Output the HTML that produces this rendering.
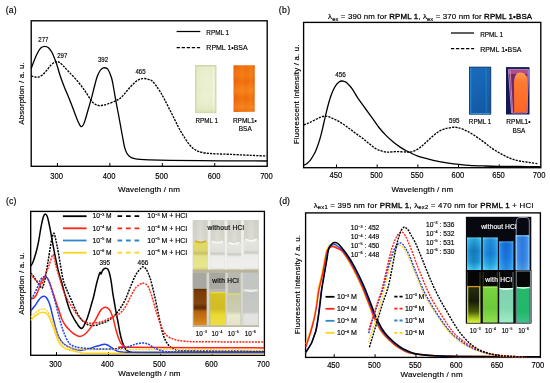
<!DOCTYPE html>
<html><head><meta charset="utf-8"><style>
html,body{margin:0;padding:0;background:#fff;width:550px;height:383px;overflow:hidden}
svg{display:block;filter:blur(0.3px)}
text{font-family:"Liberation Sans",sans-serif}
</style></head><body>
<svg width="550" height="383" viewBox="0 0 550 383" font-family="Liberation Sans, sans-serif" fill="#000">
<rect width="550" height="383" fill="#fff"/>
<text x="5.85" y="12.5" font-size="8.6" fill="#000" stroke="#000" stroke-width="0.16" textLength="10.70" lengthAdjust="spacing" >(a)</text>
<rect x="31.2" y="20.8" width="236.00" height="145.50" fill="none" stroke="#000" stroke-width="1.35"/>
<line x1="57.40" y1="166.30" x2="57.40" y2="163.00" stroke="#000" stroke-width="1.0"/>
<line x1="109.85" y1="166.30" x2="109.85" y2="163.00" stroke="#000" stroke-width="1.0"/>
<line x1="162.30" y1="166.30" x2="162.30" y2="163.00" stroke="#000" stroke-width="1.0"/>
<line x1="214.75" y1="166.30" x2="214.75" y2="163.00" stroke="#000" stroke-width="1.0"/>
<text x="50.35" y="178.8" font-size="8.7" fill="#000" stroke="#000" stroke-width="0.16" textLength="12.70" lengthAdjust="spacingAndGlyphs" >300</text>
<text x="102.80" y="178.8" font-size="8.7" fill="#000" stroke="#000" stroke-width="0.16" textLength="12.70" lengthAdjust="spacingAndGlyphs" >400</text>
<text x="155.25" y="178.8" font-size="8.7" fill="#000" stroke="#000" stroke-width="0.16" textLength="12.70" lengthAdjust="spacingAndGlyphs" >500</text>
<text x="207.70" y="178.8" font-size="8.7" fill="#000" stroke="#000" stroke-width="0.16" textLength="12.70" lengthAdjust="spacingAndGlyphs" >600</text>
<text x="260.15" y="178.8" font-size="8.7" fill="#000" stroke="#000" stroke-width="0.16" textLength="12.70" lengthAdjust="spacingAndGlyphs" >700</text>
<text x="118.05" y="192.2" font-size="8.0" fill="#000" stroke="#000" stroke-width="0.16" textLength="61.80" lengthAdjust="spacing" >Wavelength / nm</text>
<text x="23.7" y="124.75" font-size="7.9" stroke="#000" stroke-width="0.16" textLength="62.50" lengthAdjust="spacing" transform="rotate(-90 23.7 124.75)">Absorption / a. u.</text>
<path d="M31.20,68.50 C31.67,67.25 32.95,63.58 34.00,61.00 C35.05,58.42 36.33,55.20 37.50,53.00 C38.67,50.80 39.77,48.92 41.00,47.80 C42.23,46.68 43.65,46.30 44.90,46.30 C46.15,46.30 47.32,46.77 48.50,47.80 C49.68,48.83 50.73,50.05 52.00,52.50 C53.27,54.95 55.10,59.83 56.10,62.50 C57.10,65.17 57.35,66.38 58.00,68.50 C58.65,70.62 59.23,72.87 60.00,75.20 C60.77,77.53 61.68,80.03 62.60,82.50 C63.52,84.97 64.57,87.72 65.50,90.00 C66.43,92.28 67.20,93.78 68.20,96.20 C69.20,98.62 70.42,101.70 71.50,104.50 C72.58,107.30 73.62,110.17 74.70,113.00 C75.78,115.83 76.97,119.23 78.00,121.50 C79.03,123.77 79.98,126.10 80.90,126.60 C81.82,127.10 82.70,125.90 83.50,124.50 C84.30,123.10 84.87,120.87 85.70,118.20 C86.53,115.53 87.53,111.87 88.50,108.50 C89.47,105.13 90.53,101.58 91.50,98.00 C92.47,94.42 93.35,90.58 94.30,87.00 C95.25,83.42 96.17,79.33 97.20,76.50 C98.23,73.67 99.53,71.42 100.50,70.00 C101.47,68.58 102.20,68.35 103.00,68.00 C103.80,67.65 104.47,67.65 105.30,67.90 C106.13,68.15 106.95,67.82 108.00,69.50 C109.05,71.18 110.63,74.75 111.60,78.00 C112.57,81.25 113.08,85.17 113.80,89.00 C114.52,92.83 115.20,97.17 115.90,101.00 C116.60,104.83 117.28,108.18 118.00,112.00 C118.72,115.82 119.48,119.98 120.20,123.90 C120.92,127.82 121.58,131.67 122.30,135.50 C123.02,139.33 123.80,144.07 124.50,146.90 C125.20,149.73 125.78,151.02 126.50,152.50 C127.22,153.98 127.97,154.93 128.80,155.80 C129.63,156.67 130.53,157.23 131.50,157.70 C132.47,158.17 133.18,158.33 134.60,158.60 C136.02,158.87 137.62,159.10 140.00,159.30 C142.38,159.50 143.90,159.63 148.90,159.80 C153.90,159.97 158.15,160.13 170.00,160.30 C181.85,160.47 203.83,160.68 220.00,160.80 C236.17,160.92 259.17,160.97 267.00,161.00" fill="none" stroke="#000" stroke-width="1.3" stroke-linejoin="round"/>
<path d="M31.20,75.90 C31.87,76.08 33.90,76.85 35.20,77.00 C36.50,77.15 37.70,77.22 39.00,76.80 C40.30,76.38 41.67,75.63 43.00,74.50 C44.33,73.37 45.67,71.58 47.00,70.00 C48.33,68.42 49.75,66.28 51.00,65.00 C52.25,63.72 53.53,62.85 54.50,62.30 C55.47,61.75 56.05,61.72 56.80,61.70 C57.55,61.68 57.97,61.57 59.00,62.20 C60.03,62.83 61.42,63.95 63.00,65.50 C64.58,67.05 66.27,69.12 68.50,71.50 C70.73,73.88 73.73,76.68 76.40,79.80 C79.07,82.92 82.18,86.97 84.50,90.20 C86.82,93.43 88.93,97.18 90.30,99.20 C91.67,101.22 91.75,101.40 92.70,102.30 C93.65,103.20 94.90,104.05 96.00,104.60 C97.10,105.15 98.13,105.50 99.30,105.60 C100.47,105.70 101.63,105.45 103.00,105.20 C104.37,104.95 105.40,104.83 107.50,104.10 C109.60,103.37 113.42,101.82 115.60,100.80 C117.78,99.78 118.95,99.37 120.60,98.00 C122.25,96.63 123.87,94.45 125.50,92.60 C127.13,90.75 128.77,88.67 130.40,86.90 C132.03,85.13 133.87,83.22 135.30,82.00 C136.73,80.78 137.80,80.17 139.00,79.60 C140.20,79.03 141.22,78.73 142.50,78.60 C143.78,78.47 145.45,78.57 146.70,78.80 C147.95,79.03 149.12,79.67 150.00,80.00 C150.88,80.33 151.00,79.88 152.00,80.80 C153.00,81.72 154.58,83.60 156.00,85.50 C157.42,87.40 159.05,89.82 160.50,92.20 C161.95,94.58 163.18,96.93 164.70,99.80 C166.22,102.67 167.97,106.17 169.60,109.40 C171.23,112.63 172.87,115.93 174.50,119.20 C176.13,122.47 177.60,125.73 179.40,129.00 C181.20,132.27 183.53,136.10 185.30,138.80 C187.07,141.50 188.55,143.50 190.00,145.20 C191.45,146.90 192.50,147.93 194.00,149.00 C195.50,150.07 197.17,150.93 199.00,151.60 C200.83,152.27 202.65,152.65 205.00,153.00 C207.35,153.35 208.70,153.47 213.10,153.70 C217.50,153.93 225.25,154.13 231.40,154.40 C237.55,154.67 244.15,155.03 250.00,155.30 C255.85,155.57 263.75,155.88 266.50,156.00" fill="none" stroke="#000" stroke-width="1.35" stroke-dasharray="2.2 1.1" stroke-linejoin="round"/>
<text x="38.25" y="41.6" font-size="7.8" fill="#000" stroke="#000" stroke-width="0.16" textLength="10.20" lengthAdjust="spacingAndGlyphs" >277</text>
<text x="57.15" y="58.0" font-size="7.8" fill="#000" stroke="#000" stroke-width="0.16" textLength="10.20" lengthAdjust="spacingAndGlyphs" >297</text>
<text x="97.90" y="61.9" font-size="7.8" fill="#000" stroke="#000" stroke-width="0.16" textLength="10.20" lengthAdjust="spacingAndGlyphs" >392</text>
<text x="135.40" y="74.1" font-size="7.8" fill="#000" stroke="#000" stroke-width="0.16" textLength="10.20" lengthAdjust="spacingAndGlyphs" >465</text>
<line x1="176.60" y1="31.50" x2="200.30" y2="31.50" stroke="#000" stroke-width="1.25"/>
<text x="206.35" y="34.8" font-size="7.3" fill="#000" stroke="#000" stroke-width="0.16" textLength="22.80" lengthAdjust="spacingAndGlyphs" >RPML 1</text>
<line x1="176.60" y1="47.50" x2="200.30" y2="47.50" stroke="#000" stroke-width="1.25" stroke-dasharray="3.3 1.75"/>
<text x="206.35" y="49.6" font-size="7.3" fill="#000" stroke="#000" stroke-width="0.16" textLength="41.30" lengthAdjust="spacingAndGlyphs" >RPML 1•BSA</text>
<defs>
<linearGradient id="va1" x1="0" y1="0" x2="1" y2="0">
 <stop offset="0" stop-color="#d0d6aa"/><stop offset="0.1" stop-color="#e6ecc6"/><stop offset="0.5" stop-color="#ebf0d0"/><stop offset="0.82" stop-color="#e8eecc"/><stop offset="0.88" stop-color="#f6f8ea"/><stop offset="0.94" stop-color="#e4e9c4"/><stop offset="1" stop-color="#cfd4aa"/>
</linearGradient>
<linearGradient id="va1v" x1="0" y1="0" x2="0" y2="1">
 <stop offset="0" stop-color="#c8d09c" stop-opacity="0.9"/><stop offset="0.04" stop-color="#e0e6c0" stop-opacity="0.3"/><stop offset="0.5" stop-color="#fff" stop-opacity="0"/><stop offset="0.9" stop-color="#dde5b8" stop-opacity="0.4"/><stop offset="1" stop-color="#d0d8a8" stop-opacity="0.7"/>
</linearGradient>
<linearGradient id="va2" x1="0" y1="0" x2="1" y2="0">
 <stop offset="0" stop-color="#e85e08"/><stop offset="0.15" stop-color="#ee680a"/><stop offset="0.4" stop-color="#f07410"/><stop offset="0.6" stop-color="#ee6a0a"/><stop offset="0.85" stop-color="#f07812"/><stop offset="1" stop-color="#e45c08"/>
</linearGradient>
<linearGradient id="va2v" x1="0" y1="0" x2="0" y2="1">
 <stop offset="0" stop-color="#ffb040" stop-opacity="0"/><stop offset="0.2" stop-color="#ffa030" stop-opacity="0.25"/><stop offset="0.35" stop-color="#ffb040" stop-opacity="0"/><stop offset="0.55" stop-color="#ffa030" stop-opacity="0.4"/><stop offset="0.7" stop-color="#ffa030" stop-opacity="0"/><stop offset="0.9" stop-color="#ffb040" stop-opacity="0.3"/><stop offset="1" stop-color="#ffb040" stop-opacity="0"/>
</linearGradient>
</defs>
<rect x="195.5" y="65.6" width="20.5" height="47" fill="url(#va1)" stroke="#cdd2ac" stroke-width="0.9"/>
<rect x="195.5" y="65.6" width="20.5" height="47" fill="url(#va1v)"/>
<path d="M233.5,65.2 L254.8,65.2 L254.6,111.8 L233.6,112 Z" fill="url(#va2)"/>
<path d="M233.5,65.2 L254.8,65.2 L254.6,111.8 L233.6,112 Z" fill="url(#va2v)"/>
<text x="195.45" y="123.2" font-size="7.1" fill="#000" stroke="#000" stroke-width="0.16" textLength="22.50" lengthAdjust="spacingAndGlyphs" >RPML 1</text>
<text x="232.95" y="123.2" font-size="7.1" fill="#000" stroke="#000" stroke-width="0.16" textLength="23.90" lengthAdjust="spacingAndGlyphs" >RPML1•</text>
<text x="238.75" y="131.3" font-size="7.1" fill="#000" stroke="#000" stroke-width="0.16" textLength="13.00" lengthAdjust="spacingAndGlyphs" >BSA</text>
<text x="278.85" y="12.6" font-size="8.6" fill="#000" stroke="#000" stroke-width="0.16" textLength="11.20" lengthAdjust="spacing" >(b)</text>
<text x="328.05" y="18.9" font-size="7.9" fill="#000" stroke="#000" stroke-width="0.16" textLength="204.00" lengthAdjust="spacing" >λ<tspan font-size="5.8" dy="1.6">ex</tspan><tspan dy="-1.6"> </tspan>= 390 nm for <tspan stroke-width="0.32">RPML 1</tspan>, λ<tspan font-size="5.8" dy="1.6">ex</tspan><tspan dy="-1.6"> </tspan>= 370 nm for <tspan stroke-width="0.32">RPML 1•BSA</tspan></text>
<rect x="303.6" y="22.4" width="237.20" height="145.30" fill="none" stroke="#000" stroke-width="1.35"/>
<line x1="336.50" y1="167.70" x2="336.50" y2="164.40" stroke="#000" stroke-width="1.0"/>
<line x1="377.18" y1="167.70" x2="377.18" y2="164.40" stroke="#000" stroke-width="1.0"/>
<line x1="417.86" y1="167.70" x2="417.86" y2="164.40" stroke="#000" stroke-width="1.0"/>
<line x1="458.54" y1="167.70" x2="458.54" y2="164.40" stroke="#000" stroke-width="1.0"/>
<line x1="499.22" y1="167.70" x2="499.22" y2="164.40" stroke="#000" stroke-width="1.0"/>
<text x="329.45" y="178.1" font-size="8.7" fill="#000" stroke="#000" stroke-width="0.16" textLength="12.70" lengthAdjust="spacingAndGlyphs" >450</text>
<text x="370.13" y="178.1" font-size="8.7" fill="#000" stroke="#000" stroke-width="0.16" textLength="12.70" lengthAdjust="spacingAndGlyphs" >500</text>
<text x="410.81" y="178.1" font-size="8.7" fill="#000" stroke="#000" stroke-width="0.16" textLength="12.70" lengthAdjust="spacingAndGlyphs" >550</text>
<text x="451.49" y="178.1" font-size="8.7" fill="#000" stroke="#000" stroke-width="0.16" textLength="12.70" lengthAdjust="spacingAndGlyphs" >600</text>
<text x="492.17" y="178.1" font-size="8.7" fill="#000" stroke="#000" stroke-width="0.16" textLength="12.70" lengthAdjust="spacingAndGlyphs" >650</text>
<text x="532.85" y="178.1" font-size="8.7" fill="#000" stroke="#000" stroke-width="0.16" textLength="12.70" lengthAdjust="spacingAndGlyphs" >700</text>
<text x="391.45" y="192.1" font-size="8.0" fill="#000" stroke="#000" stroke-width="0.16" textLength="61.60" lengthAdjust="spacing" >Wavelength / nm</text>
<text x="298.9" y="144.25" font-size="7.9" stroke="#000" stroke-width="0.16" textLength="99.80" lengthAdjust="spacing" transform="rotate(-90 298.9 144.25)">Fluorescent Intensity / a. u.</text>
<path d="M303.80,165.30 C304.33,165.00 305.90,164.37 307.00,163.50 C308.10,162.63 309.40,161.35 310.40,160.10 C311.40,158.85 312.12,157.53 313.00,156.00 C313.88,154.47 314.82,152.90 315.70,150.90 C316.58,148.90 317.43,146.60 318.30,144.00 C319.17,141.40 320.03,138.55 320.90,135.30 C321.77,132.05 322.63,128.20 323.50,124.50 C324.37,120.80 325.23,116.68 326.10,113.10 C326.97,109.52 327.83,106.05 328.70,103.00 C329.57,99.95 330.42,97.22 331.30,94.80 C332.18,92.38 333.12,90.23 334.00,88.50 C334.88,86.77 335.77,85.48 336.60,84.40 C337.43,83.32 338.13,82.57 339.00,82.00 C339.87,81.43 340.88,81.08 341.80,81.00 C342.72,80.92 343.63,81.17 344.50,81.50 C345.37,81.83 345.72,81.78 347.00,83.00 C348.28,84.22 350.47,86.42 352.20,88.80 C353.93,91.18 355.33,94.18 357.40,97.30 C359.47,100.42 362.20,104.15 364.60,107.50 C367.00,110.85 369.40,114.07 371.80,117.40 C374.20,120.73 376.60,124.47 379.00,127.50 C381.40,130.53 383.82,133.18 386.20,135.60 C388.58,138.02 390.92,140.03 393.30,142.00 C395.68,143.97 398.25,145.90 400.50,147.40 C402.75,148.90 404.02,149.60 406.80,151.00 C409.58,152.40 413.72,154.48 417.20,155.80 C420.68,157.12 424.22,157.97 427.70,158.90 C431.18,159.83 434.62,160.70 438.10,161.40 C441.58,162.10 445.12,162.60 448.60,163.10 C452.08,163.60 455.53,164.02 459.00,164.40 C462.47,164.78 465.07,165.13 469.40,165.40 C473.73,165.67 480.13,165.85 485.00,166.00 C489.87,166.15 492.77,166.22 498.60,166.30 C504.43,166.38 513.10,166.45 520.00,166.50 C526.90,166.55 536.67,166.58 540.00,166.60" fill="none" stroke="#000" stroke-width="1.3" stroke-linejoin="round"/>
<path d="M303.80,124.80 C304.33,124.60 305.90,124.03 307.00,123.60 C308.10,123.17 308.95,122.88 310.40,122.20 C311.85,121.52 313.95,120.37 315.70,119.50 C317.45,118.63 319.38,117.55 320.90,117.00 C322.42,116.45 323.62,116.27 324.80,116.20 C325.98,116.13 326.92,116.33 328.00,116.60 C329.08,116.87 330.13,117.32 331.30,117.80 C332.47,118.28 333.68,118.85 335.00,119.50 C336.32,120.15 337.87,120.95 339.20,121.70 C340.53,122.45 341.70,123.13 343.00,124.00 C344.30,124.87 345.67,125.93 347.00,126.90 C348.33,127.87 349.70,128.83 351.00,129.80 C352.30,130.77 353.52,131.75 354.80,132.70 C356.08,133.65 357.38,134.55 358.70,135.50 C360.02,136.45 361.40,137.40 362.70,138.40 C364.00,139.40 365.07,140.33 366.50,141.50 C367.93,142.67 369.47,144.07 371.30,145.40 C373.13,146.73 375.07,148.40 377.50,149.50 C379.93,150.60 382.77,151.65 385.90,152.00 C389.03,152.35 392.82,151.60 396.30,151.60 C399.78,151.60 404.35,151.97 406.80,152.00 C409.25,152.03 409.62,152.03 411.00,151.80 C412.38,151.57 413.68,151.23 415.10,150.60 C416.52,149.97 418.10,148.98 419.50,148.00 C420.90,147.02 422.15,145.90 423.50,144.70 C424.85,143.50 426.22,142.08 427.60,140.80 C428.98,139.52 430.40,138.22 431.80,137.00 C433.20,135.78 434.60,134.55 436.00,133.50 C437.40,132.45 438.78,131.45 440.20,130.70 C441.62,129.95 443.10,129.45 444.50,129.00 C445.90,128.55 446.88,128.30 448.60,128.00 C450.32,127.70 453.15,127.23 454.80,127.20 C456.45,127.17 457.45,127.57 458.50,127.80 C459.55,128.03 459.57,128.00 461.10,128.60 C462.63,129.20 465.30,130.13 467.70,131.40 C470.10,132.67 472.92,134.50 475.50,136.20 C478.08,137.90 480.63,139.72 483.20,141.60 C485.77,143.48 488.33,145.68 490.90,147.50 C493.47,149.32 496.02,150.98 498.60,152.50 C501.18,154.02 503.82,155.40 506.40,156.60 C508.98,157.80 511.53,158.90 514.10,159.70 C516.67,160.50 519.22,160.93 521.80,161.40 C524.38,161.87 527.02,162.12 529.60,162.50 C532.18,162.88 536.02,163.50 537.30,163.70" fill="none" stroke="#000" stroke-width="1.35" stroke-dasharray="2.2 1.1" stroke-linejoin="round"/>
<text x="335.15" y="77.4" font-size="7.8" fill="#000" stroke="#000" stroke-width="0.16" textLength="10.70" lengthAdjust="spacingAndGlyphs" >456</text>
<text x="449.05" y="122.6" font-size="7.8" fill="#000" stroke="#000" stroke-width="0.16" textLength="10.40" lengthAdjust="spacingAndGlyphs" >595</text>
<line x1="450.90" y1="33.00" x2="474.10" y2="33.00" stroke="#000" stroke-width="1.25"/>
<text x="480.15" y="36.5" font-size="7.3" fill="#000" stroke="#000" stroke-width="0.16" textLength="22.90" lengthAdjust="spacingAndGlyphs" >RPML 1</text>
<line x1="450.90" y1="48.70" x2="474.10" y2="48.70" stroke="#000" stroke-width="1.25" stroke-dasharray="3.3 1.75"/>
<text x="480.15" y="52.2" font-size="7.3" fill="#000" stroke="#000" stroke-width="0.16" textLength="41.30" lengthAdjust="spacingAndGlyphs" >RPML 1•BSA</text>
<defs>
<linearGradient id="vb1" x1="0" y1="0" x2="1" y2="0">
 <stop offset="0" stop-color="#0c2c58"/><stop offset="0.08" stop-color="#1a64a8"/><stop offset="0.3" stop-color="#1e6eb2"/><stop offset="0.55" stop-color="#2276b8"/><stop offset="0.78" stop-color="#2a82c2"/><stop offset="0.92" stop-color="#1a66a8"/><stop offset="1" stop-color="#0a2448"/>
</linearGradient>
<linearGradient id="vb1v" x1="0" y1="0" x2="0" y2="1">
 <stop offset="0" stop-color="#0a2040" stop-opacity="0.7"/><stop offset="0.05" stop-color="#0a2040" stop-opacity="0"/><stop offset="0.95" stop-color="#0a2040" stop-opacity="0"/><stop offset="1" stop-color="#0a2040" stop-opacity="0.7"/>
</linearGradient>
<linearGradient id="vb2" x1="0" y1="0" x2="1" y2="0">
 <stop offset="0" stop-color="#141650"/><stop offset="0.08" stop-color="#5a58c8"/><stop offset="0.16" stop-color="#b05898"/><stop offset="0.3" stop-color="#d85a60"/><stop offset="0.45" stop-color="#f87038"/><stop offset="0.7" stop-color="#ff7a30"/><stop offset="0.84" stop-color="#e07060"/><stop offset="0.92" stop-color="#7068d0"/><stop offset="1" stop-color="#141650"/>
</linearGradient>
<linearGradient id="vb2v" x1="0" y1="0" x2="0" y2="1">
 <stop offset="0" stop-color="#141650" stop-opacity="1"/><stop offset="0.04" stop-color="#e8a0d0" stop-opacity="0.8"/><stop offset="0.12" stop-color="#c080c0" stop-opacity="0.3"/><stop offset="0.3" stop-color="#fff" stop-opacity="0"/><stop offset="0.93" stop-color="#fff" stop-opacity="0"/><stop offset="0.97" stop-color="#a080c0" stop-opacity="0.5"/><stop offset="1" stop-color="#141650" stop-opacity="1"/>
</linearGradient>
</defs>
<defs><linearGradient id="vbb" x1="0" y1="0" x2="0.3" y2="1"><stop offset="0" stop-color="#1a6cbc"/><stop offset="0.5" stop-color="#1664b2"/><stop offset="1" stop-color="#135aa6"/></linearGradient><linearGradient id="vbo" x1="0" y1="0" x2="0" y2="1"><stop offset="0" stop-color="#ff9a50"/><stop offset="0.25" stop-color="#ff7a30"/><stop offset="1" stop-color="#ff6424"/></linearGradient></defs>
<rect x="469.4" y="67.1" width="21.4" height="47.1" fill="url(#vbb)" stroke="#0a2848" stroke-width="0.8"/>
<path d="M470.8,68 L470.8,113" stroke="#3494d4" stroke-width="0.8"/>
<path d="M486,68 L486.5,113" stroke="#2a86cc" stroke-width="1.6" opacity="0.45"/>
<path d="M470,113.6 L490.4,113.6" stroke="#48a8e8" stroke-width="0.8"/>
<rect x="506.0" y="67.1" width="23.5" height="47.4" fill="#131852"/>
<path d="M508.3,69.4 L528.4,69.4 L527.0,113.0 L511.6,113.0 Z" fill="#6c2a6c" stroke="#d8a0e0" stroke-width="0.8"/>
<path d="M508.8,70 L528,70 L527.8,74 L509,74 Z" fill="#c05890" opacity="0.8"/>
<path d="M514.2,112.6 L514.0,82 Q514.5,73 519.5,72.4 Q525.5,72.2 527.4,78 L526.7,112.6 Z" fill="url(#vbo)"/>
<path d="M510.2,70.5 L512.6,112.5" stroke="#f0a8c8" stroke-width="0.7"/>
<path d="M528.2,70 L527.2,113" stroke="#8c88f0" stroke-width="0.8"/>
<text x="468.85" y="124.4" font-size="7.1" fill="#000" stroke="#000" stroke-width="0.16" textLength="22.50" lengthAdjust="spacingAndGlyphs" >RPML 1</text>
<text x="506.35" y="124.4" font-size="7.1" fill="#000" stroke="#000" stroke-width="0.16" textLength="24.10" lengthAdjust="spacingAndGlyphs" >RPML1•</text>
<text x="512.45" y="133.0" font-size="7.1" fill="#000" stroke="#000" stroke-width="0.16" textLength="12.90" lengthAdjust="spacingAndGlyphs" >BSA</text>
<text x="6.05" y="203.8" font-size="8.6" fill="#000" stroke="#000" stroke-width="0.16" textLength="10.20" lengthAdjust="spacing" >(c)</text>
<rect x="30.7" y="211.4" width="233.70" height="143.90" fill="none" stroke="#000" stroke-width="1.35"/>
<line x1="56.50" y1="355.30" x2="56.50" y2="352.10" stroke="#000" stroke-width="1.0"/>
<line x1="108.45" y1="355.30" x2="108.45" y2="352.10" stroke="#000" stroke-width="1.0"/>
<line x1="160.40" y1="355.30" x2="160.40" y2="352.10" stroke="#000" stroke-width="1.0"/>
<line x1="212.35" y1="355.30" x2="212.35" y2="352.10" stroke="#000" stroke-width="1.0"/>
<text x="49.15" y="366.5" font-size="8.7" fill="#000" stroke="#000" stroke-width="0.16" textLength="12.70" lengthAdjust="spacingAndGlyphs" >300</text>
<text x="101.10" y="366.5" font-size="8.7" fill="#000" stroke="#000" stroke-width="0.16" textLength="12.70" lengthAdjust="spacingAndGlyphs" >400</text>
<text x="153.05" y="366.5" font-size="8.7" fill="#000" stroke="#000" stroke-width="0.16" textLength="12.70" lengthAdjust="spacingAndGlyphs" >500</text>
<text x="205.00" y="366.5" font-size="8.7" fill="#000" stroke="#000" stroke-width="0.16" textLength="12.70" lengthAdjust="spacingAndGlyphs" >600</text>
<text x="256.95" y="366.5" font-size="8.7" fill="#000" stroke="#000" stroke-width="0.16" textLength="12.70" lengthAdjust="spacingAndGlyphs" >700</text>
<text x="118.35" y="375.9" font-size="8.0" fill="#000" stroke="#000" stroke-width="0.16" textLength="62.10" lengthAdjust="spacing" >Wavelength / nm</text>
<text x="24.0" y="314.75" font-size="7.9" stroke="#000" stroke-width="0.16" textLength="62.50" lengthAdjust="spacing" transform="rotate(-90 24.0 314.75)">Absorption / a. u.</text>
<path d="M30.80,273.20 C31.33,273.83 32.77,275.35 34.00,277.00 C35.23,278.65 36.92,281.27 38.20,283.10 C39.48,284.93 40.90,287.43 41.70,288.00 C42.50,288.57 42.55,287.50 43.00,286.50 C43.45,285.50 43.97,283.80 44.40,282.00 C44.83,280.20 45.13,278.25 45.60,275.70 C46.07,273.15 46.75,269.32 47.20,266.70 C47.65,264.08 47.87,262.70 48.30,260.00 C48.73,257.30 49.25,253.83 49.80,250.50 C50.35,247.17 50.93,242.88 51.60,240.00 C52.27,237.12 53.13,233.37 53.80,233.20 C54.47,233.03 55.07,236.95 55.60,239.00 C56.13,241.05 56.57,243.38 57.00,245.50 C57.43,247.62 57.60,248.32 58.20,251.70 C58.80,255.08 59.82,261.30 60.60,265.80 C61.38,270.30 62.17,275.42 62.90,278.70 C63.63,281.98 64.22,283.35 65.00,285.50 C65.78,287.65 66.38,288.82 67.60,291.60 C68.82,294.38 70.73,298.67 72.30,302.20 C73.87,305.73 75.43,309.87 77.00,312.80 C78.57,315.73 79.93,317.85 81.70,319.80 C83.47,321.75 85.45,323.53 87.60,324.50 C89.75,325.47 92.60,325.70 94.60,325.60 C96.60,325.50 97.87,324.47 99.60,323.90 C101.33,323.33 103.27,322.93 105.00,322.20 C106.73,321.47 108.33,320.70 110.00,319.50 C111.67,318.30 113.30,316.83 115.00,315.00 C116.70,313.17 118.47,311.10 120.20,308.50 C121.93,305.90 123.65,303.10 125.40,299.40 C127.15,295.70 128.95,290.43 130.70,286.30 C132.45,282.17 134.17,277.63 135.90,274.60 C137.63,271.57 139.88,269.38 141.10,268.10 C142.32,266.82 142.33,266.68 143.20,266.90 C144.07,267.12 145.13,267.47 146.30,269.40 C147.47,271.33 148.88,274.37 150.20,278.50 C151.52,282.63 152.88,288.55 154.20,294.20 C155.52,299.85 156.80,306.32 158.10,312.40 C159.40,318.48 160.70,325.90 162.00,330.70 C163.30,335.50 164.38,338.40 165.90,341.20 C167.42,344.00 169.13,346.03 171.10,347.50 C173.07,348.97 174.55,349.45 177.70,350.00 C180.85,350.55 175.58,350.60 190.00,350.80 C204.42,351.00 251.83,351.13 264.20,351.20" fill="none" stroke="#000" stroke-width="1.5" stroke-dasharray="2.0 1.1" stroke-linejoin="round"/>
<path d="M30.80,266.00 C31.18,265.28 32.18,264.12 33.10,261.70 C34.02,259.28 35.38,254.90 36.30,251.50 C37.22,248.10 37.82,245.35 38.60,241.30 C39.38,237.25 40.22,231.25 41.00,227.20 C41.78,223.15 42.60,219.22 43.30,217.00 C44.00,214.78 44.55,214.02 45.20,213.90 C45.85,213.78 46.60,214.87 47.20,216.30 C47.80,217.73 48.27,220.15 48.80,222.50 C49.33,224.85 49.88,227.65 50.40,230.40 C50.92,233.15 51.38,236.13 51.90,239.00 C52.42,241.87 53.03,245.10 53.50,247.60 C53.97,250.10 54.20,251.52 54.70,254.00 C55.20,256.48 55.92,259.75 56.50,262.50 C57.08,265.25 57.62,268.08 58.20,270.50 C58.78,272.92 59.42,275.03 60.00,277.00 C60.58,278.97 61.02,279.87 61.70,282.30 C62.38,284.73 63.30,288.65 64.10,291.60 C64.90,294.55 65.72,297.35 66.50,300.00 C67.28,302.65 68.05,305.33 68.80,307.50 C69.55,309.67 70.22,311.28 71.00,313.00 C71.78,314.72 72.67,316.30 73.50,317.80 C74.33,319.30 75.22,320.72 76.00,322.00 C76.78,323.28 77.45,324.50 78.20,325.50 C78.95,326.50 79.82,327.55 80.50,328.00 C81.18,328.45 81.67,328.70 82.30,328.20 C82.93,327.70 83.52,326.53 84.30,325.00 C85.08,323.47 86.15,321.25 87.00,319.00 C87.85,316.75 88.65,314.00 89.40,311.50 C90.15,309.00 90.80,306.47 91.50,304.00 C92.20,301.53 92.80,299.90 93.60,296.70 C94.40,293.50 95.47,288.22 96.30,284.80 C97.13,281.38 97.95,278.27 98.60,276.20 C99.25,274.13 99.80,272.77 100.20,272.40 C100.60,272.03 100.62,274.28 101.00,274.00 C101.38,273.72 102.00,271.57 102.50,270.70 C103.00,269.83 103.47,269.20 104.00,268.80 C104.53,268.40 105.03,268.20 105.70,268.30 C106.37,268.40 107.35,268.48 108.00,269.40 C108.65,270.32 109.07,271.77 109.60,273.80 C110.13,275.83 110.68,278.47 111.20,281.60 C111.72,284.73 112.18,289.20 112.70,292.60 C113.22,296.00 113.77,298.87 114.30,302.00 C114.83,305.13 115.28,308.07 115.90,311.40 C116.52,314.73 117.32,318.40 118.00,322.00 C118.68,325.60 119.33,329.83 120.00,333.00 C120.67,336.17 121.22,338.58 122.00,341.00 C122.78,343.42 123.87,345.92 124.70,347.50 C125.53,349.08 125.67,349.68 127.00,350.50 C128.33,351.32 128.87,352.05 132.70,352.40 C136.53,352.75 128.08,352.57 150.00,352.60 C171.92,352.63 245.17,352.60 264.20,352.60" fill="none" stroke="#000" stroke-width="1.5" stroke-linejoin="round"/>
<path d="M30.80,274.00 C31.17,274.53 32.17,276.12 33.00,277.20 C33.83,278.28 34.90,279.53 35.80,280.50 C36.70,281.47 37.60,282.42 38.40,283.00 C39.20,283.58 39.90,284.08 40.60,284.00 C41.30,283.92 42.00,283.42 42.60,282.50 C43.20,281.58 43.77,279.63 44.20,278.50 C44.63,277.37 44.73,277.03 45.20,275.70 C45.67,274.37 46.38,272.17 47.00,270.50 C47.62,268.83 48.28,267.37 48.90,265.70 C49.52,264.03 50.05,262.35 50.70,260.50 C51.35,258.65 52.17,254.85 52.80,254.60 C53.43,254.35 53.98,257.13 54.50,259.00 C55.02,260.87 55.08,262.70 55.90,265.80 C56.72,268.90 58.23,273.68 59.40,277.60 C60.57,281.52 61.73,285.98 62.90,289.30 C64.07,292.62 65.03,294.77 66.40,297.50 C67.77,300.23 69.53,303.15 71.10,305.70 C72.67,308.25 74.23,310.65 75.80,312.80 C77.37,314.95 78.93,317.03 80.50,318.60 C82.07,320.17 83.43,321.42 85.20,322.20 C86.97,322.98 88.70,323.30 91.10,323.30 C93.50,323.30 97.28,322.67 99.60,322.20 C101.92,321.73 103.27,321.20 105.00,320.50 C106.73,319.80 108.33,318.75 110.00,318.00 C111.67,317.25 113.30,316.80 115.00,316.00 C116.70,315.20 118.47,314.75 120.20,313.20 C121.93,311.65 123.65,309.48 125.40,306.70 C127.15,303.92 128.95,299.68 130.70,296.50 C132.45,293.32 134.17,289.73 135.90,287.60 C137.63,285.47 139.88,284.43 141.10,283.70 C142.32,282.97 142.12,282.85 143.20,283.20 C144.28,283.55 146.20,283.75 147.60,285.80 C149.00,287.85 150.07,290.85 151.60,295.50 C153.13,300.15 155.07,308.27 156.80,313.70 C158.53,319.13 160.27,324.40 162.00,328.10 C163.73,331.80 165.02,333.98 167.20,335.90 C169.38,337.82 172.13,338.72 175.10,339.60 C178.07,340.48 180.85,340.83 185.00,341.20 C189.15,341.57 186.80,341.68 200.00,341.80 C213.20,341.92 253.50,341.88 264.20,341.90" fill="none" stroke="#ff2414" stroke-width="1.5" stroke-dasharray="2.0 1.1" stroke-linejoin="round"/>
<path d="M30.80,299.00 C31.38,298.77 33.33,298.37 34.30,297.60 C35.27,296.83 35.82,295.95 36.60,294.40 C37.38,292.85 38.22,290.37 39.00,288.30 C39.78,286.23 40.52,283.78 41.30,282.00 C42.08,280.22 43.05,278.50 43.70,277.60 C44.35,276.70 44.68,276.62 45.20,276.60 C45.72,276.58 46.27,276.97 46.80,277.50 C47.33,278.03 47.62,278.00 48.40,279.80 C49.18,281.60 50.47,285.32 51.50,288.30 C52.53,291.28 53.68,294.92 54.60,297.70 C55.52,300.48 56.18,302.62 57.00,305.00 C57.82,307.38 58.63,309.50 59.50,312.00 C60.37,314.50 61.20,317.75 62.20,320.00 C63.20,322.25 64.37,323.92 65.50,325.50 C66.63,327.08 67.57,328.08 69.00,329.50 C70.43,330.92 72.25,332.82 74.10,334.00 C75.95,335.18 78.12,336.73 80.10,336.60 C82.08,336.47 83.88,335.18 86.00,333.20 C88.12,331.22 90.53,328.23 92.80,324.70 C95.07,321.17 97.98,314.70 99.60,312.00 C101.22,309.30 101.48,309.28 102.50,308.50 C103.52,307.72 104.52,307.08 105.70,307.30 C106.88,307.52 108.38,308.02 109.60,309.80 C110.82,311.58 111.93,314.63 113.00,318.00 C114.07,321.37 115.08,326.67 116.00,330.00 C116.92,333.33 117.67,335.75 118.50,338.00 C119.33,340.25 119.92,342.07 121.00,343.50 C122.08,344.93 123.50,345.97 125.00,346.60 C126.50,347.23 106.80,347.08 130.00,347.30 C153.20,347.52 241.83,347.80 264.20,347.90" fill="none" stroke="#ff2414" stroke-width="1.5" stroke-linejoin="round"/>
<path d="M30.80,320.50 C31.33,319.92 32.80,318.08 34.00,317.00 C35.20,315.92 36.83,314.73 38.00,314.00 C39.17,313.27 40.07,312.88 41.00,312.60 C41.93,312.32 42.68,312.15 43.60,312.30 C44.52,312.45 45.60,312.72 46.50,313.50 C47.40,314.28 48.07,315.27 49.00,317.00 C49.93,318.73 51.02,321.15 52.10,323.90 C53.18,326.65 54.37,330.40 55.50,333.50 C56.63,336.60 57.65,340.25 58.90,342.50 C60.15,344.75 61.60,345.87 63.00,347.00 C64.40,348.13 65.47,348.63 67.30,349.30 C69.13,349.97 71.73,350.50 74.00,351.00 C76.27,351.50 76.57,351.93 80.90,352.30 C85.23,352.67 69.45,352.95 100.00,353.20 C130.55,353.45 236.83,353.70 264.20,353.80" fill="none" stroke="#ffd21e" stroke-width="1.5" stroke-linejoin="round"/>
<path d="M30.80,311.10 C31.25,310.50 32.67,308.58 33.50,307.50 C34.33,306.42 35.02,305.72 35.80,304.60 C36.58,303.48 37.33,301.98 38.20,300.80 C39.07,299.62 40.03,298.27 41.00,297.50 C41.97,296.73 43.12,296.18 44.00,296.20 C44.88,296.22 45.52,296.67 46.30,297.60 C47.08,298.53 48.00,300.23 48.70,301.80 C49.40,303.37 49.93,305.02 50.50,307.00 C51.07,308.98 51.27,310.33 52.10,313.70 C52.93,317.07 54.37,323.25 55.50,327.20 C56.63,331.15 57.50,334.57 58.90,337.40 C60.30,340.23 61.65,342.35 63.90,344.20 C66.15,346.05 69.57,347.50 72.40,348.50 C75.23,349.50 78.07,350.18 80.90,350.20 C83.73,350.22 87.05,349.20 89.40,348.60 C91.75,348.00 93.30,347.13 95.00,346.60 C96.70,346.07 98.07,345.78 99.60,345.40 C101.13,345.02 102.80,344.33 104.20,344.30 C105.60,344.27 106.70,344.58 108.00,345.20 C109.30,345.82 110.67,347.12 112.00,348.00 C113.33,348.88 114.33,349.83 116.00,350.50 C117.67,351.17 118.00,351.68 122.00,352.00 C126.00,352.32 116.30,352.30 140.00,352.40 C163.70,352.50 243.50,352.57 264.20,352.60" fill="none" stroke="#1e40f0" stroke-width="1.5" stroke-linejoin="round"/>
<path d="M30.80,317.10 C31.33,316.58 32.80,315.02 34.00,314.00 C35.20,312.98 36.83,311.77 38.00,311.00 C39.17,310.23 40.07,309.73 41.00,309.40 C41.93,309.07 42.68,308.87 43.60,309.00 C44.52,309.13 45.60,309.37 46.50,310.20 C47.40,311.03 48.07,312.28 49.00,314.00 C49.93,315.72 51.02,317.83 52.10,320.50 C53.18,323.17 54.37,326.90 55.50,330.00 C56.63,333.10 57.65,336.77 58.90,339.10 C60.15,341.43 61.60,342.72 63.00,344.00 C64.40,345.28 65.47,346.05 67.30,346.80 C69.13,347.55 71.73,348.08 74.00,348.50 C76.27,348.92 76.57,349.15 80.90,349.30 C85.23,349.45 88.48,349.37 100.00,349.40 C111.52,349.43 122.63,349.37 150.00,349.50 C177.37,349.63 245.17,350.08 264.20,350.20" fill="none" stroke="#ffd21e" stroke-width="1.5" stroke-dasharray="2.0 1.1" stroke-linejoin="round"/>
<path d="M30.80,298.60 C31.12,298.32 31.87,298.22 32.70,296.90 C33.53,295.58 34.88,292.65 35.80,290.70 C36.72,288.75 37.42,287.03 38.20,285.20 C38.98,283.37 39.65,281.08 40.50,279.70 C41.35,278.32 42.50,277.40 43.30,276.90 C44.10,276.40 44.60,276.43 45.30,276.70 C46.00,276.97 46.75,277.37 47.50,278.50 C48.25,279.63 49.08,281.58 49.80,283.50 C50.52,285.42 51.18,287.92 51.80,290.00 C52.42,292.08 52.88,293.83 53.50,296.00 C54.12,298.17 54.75,300.17 55.50,303.00 C56.25,305.83 57.03,309.33 58.00,313.00 C58.97,316.67 60.30,321.67 61.30,325.00 C62.30,328.33 62.88,330.25 64.00,333.00 C65.12,335.75 66.67,339.42 68.00,341.50 C69.33,343.58 69.85,344.45 72.00,345.50 C74.15,346.55 76.58,347.22 80.90,347.80 C85.22,348.38 92.22,348.83 97.90,349.00 C103.58,349.17 110.48,349.05 115.00,348.80 C119.52,348.55 122.38,347.97 125.00,347.50 C127.62,347.03 128.87,346.58 130.70,346.00 C132.53,345.42 133.97,344.50 136.00,344.00 C138.03,343.50 140.90,343.00 142.90,343.00 C144.90,343.00 146.48,343.42 148.00,344.00 C149.52,344.58 150.50,345.67 152.00,346.50 C153.50,347.33 154.92,348.20 157.00,349.00 C159.08,349.80 160.67,350.83 164.50,351.30 C168.33,351.77 163.38,351.68 180.00,351.80 C196.62,351.92 250.17,351.97 264.20,352.00" fill="none" stroke="#1e40f0" stroke-width="1.5" stroke-dasharray="2.0 1.1" stroke-linejoin="round"/>
<text x="99.45" y="265.0" font-size="7.8" fill="#000" stroke="#000" stroke-width="0.16" textLength="10.50" lengthAdjust="spacingAndGlyphs" >395</text>
<text x="137.55" y="265.0" font-size="7.8" fill="#000" stroke="#000" stroke-width="0.16" textLength="10.80" lengthAdjust="spacingAndGlyphs" >466</text>
<line x1="62.90" y1="216.20" x2="86.60" y2="216.20" stroke="#000" stroke-width="1.8"/>
<line x1="117.50" y1="216.20" x2="140.20" y2="216.20" stroke="#000" stroke-width="1.8" stroke-dasharray="4.7 3.8"/>
<text x="92.55" y="218.4" font-size="7.0" fill="#000" stroke="#000" stroke-width="0.16" textLength="19.10" lengthAdjust="spacingAndGlyphs" >10<tspan font-size="3.92" dy="-2.66">−3</tspan><tspan dy="2.66"> M</tspan></text>
<text x="147.35" y="218.4" font-size="7.0" fill="#000" stroke="#000" stroke-width="0.16" textLength="39.60" lengthAdjust="spacing" >10<tspan font-size="3.92" dy="-2.66">−3</tspan><tspan dy="2.66"> M + HCl</tspan></text>
<line x1="62.90" y1="228.30" x2="86.60" y2="228.30" stroke="#ff2414" stroke-width="1.8"/>
<line x1="117.50" y1="228.30" x2="140.20" y2="228.30" stroke="#ff2414" stroke-width="1.8" stroke-dasharray="4.7 3.8"/>
<text x="92.55" y="230.5" font-size="7.0" fill="#000" stroke="#000" stroke-width="0.16" textLength="19.10" lengthAdjust="spacingAndGlyphs" >10<tspan font-size="3.92" dy="-2.66">−4</tspan><tspan dy="2.66"> M</tspan></text>
<text x="147.35" y="230.5" font-size="7.0" fill="#000" stroke="#000" stroke-width="0.16" textLength="39.60" lengthAdjust="spacing" >10<tspan font-size="3.92" dy="-2.66">−4</tspan><tspan dy="2.66"> M + HCl</tspan></text>
<line x1="62.90" y1="240.50" x2="86.60" y2="240.50" stroke="#2f86c8" stroke-width="1.8"/>
<line x1="117.50" y1="240.50" x2="140.20" y2="240.50" stroke="#2f86c8" stroke-width="1.8" stroke-dasharray="4.7 3.8"/>
<text x="92.55" y="242.7" font-size="7.0" fill="#000" stroke="#000" stroke-width="0.16" textLength="19.10" lengthAdjust="spacingAndGlyphs" >10<tspan font-size="3.92" dy="-2.66">−5</tspan><tspan dy="2.66"> M</tspan></text>
<text x="147.35" y="242.7" font-size="7.0" fill="#000" stroke="#000" stroke-width="0.16" textLength="39.60" lengthAdjust="spacing" >10<tspan font-size="3.92" dy="-2.66">−5</tspan><tspan dy="2.66"> M + HCl</tspan></text>
<line x1="62.90" y1="252.70" x2="86.60" y2="252.70" stroke="#ffd21e" stroke-width="1.8"/>
<line x1="117.50" y1="252.70" x2="140.20" y2="252.70" stroke="#ffd21e" stroke-width="1.8" stroke-dasharray="4.7 3.8"/>
<text x="92.55" y="254.9" font-size="7.0" fill="#000" stroke="#000" stroke-width="0.16" textLength="19.10" lengthAdjust="spacingAndGlyphs" >10<tspan font-size="3.92" dy="-2.66">−6</tspan><tspan dy="2.66"> M</tspan></text>
<text x="147.35" y="254.9" font-size="7.0" fill="#000" stroke="#000" stroke-width="0.16" textLength="39.60" lengthAdjust="spacing" >10<tspan font-size="3.92" dy="-2.66">−6</tspan><tspan dy="2.66"> M + HCl</tspan></text>
<defs>
<linearGradient id="pc_top" x1="0" y1="0" x2="0" y2="1"><stop offset="0" stop-color="#d0d0c6"/><stop offset="0.5" stop-color="#d6d6cc"/><stop offset="1" stop-color="#d8d8ce"/></linearGradient>
<linearGradient id="pc_col" x1="0" y1="0" x2="1" y2="0"><stop offset="0" stop-color="#fff" stop-opacity="0"/><stop offset="0.5" stop-color="#fff" stop-opacity="0.2"/><stop offset="1" stop-color="#fff" stop-opacity="0"/></linearGradient>
<linearGradient id="pc_y1" x1="0" y1="0" x2="0" y2="1"><stop offset="0" stop-color="#e2da66"/><stop offset="0.3" stop-color="#dcd670"/><stop offset="0.4" stop-color="#c8c062"/><stop offset="0.5" stop-color="#e4e286"/><stop offset="0.88" stop-color="#e8e690"/><stop offset="1" stop-color="#d4cc6c"/></linearGradient>
<linearGradient id="pc_w" x1="0" y1="0" x2="0" y2="1"><stop offset="0" stop-color="#e6e6e0"/><stop offset="0.33" stop-color="#e0e0da"/><stop offset="0.41" stop-color="#cbcbc3"/><stop offset="0.5" stop-color="#ececea"/><stop offset="0.9" stop-color="#efefed"/><stop offset="1" stop-color="#d8d6cc"/></linearGradient>
<linearGradient id="pc_am" x1="0" y1="0" x2="0" y2="1"><stop offset="0" stop-color="#5e2c04"/><stop offset="0.08" stop-color="#7a3c08"/><stop offset="0.4" stop-color="#844410"/><stop offset="0.52" stop-color="#5a2a04"/><stop offset="0.62" stop-color="#b86410"/><stop offset="0.85" stop-color="#cc7a14"/><stop offset="1" stop-color="#d89030"/></linearGradient>
<linearGradient id="pc_ye" x1="0" y1="0" x2="0" y2="1"><stop offset="0" stop-color="#f0e060"/><stop offset="0.06" stop-color="#d6c224"/><stop offset="0.5" stop-color="#d0bc26"/><stop offset="0.68" stop-color="#eada30"/><stop offset="1" stop-color="#eede48"/></linearGradient>
<linearGradient id="pc_pa" x1="0" y1="0" x2="0" y2="1"><stop offset="0" stop-color="#e8e850"/><stop offset="0.06" stop-color="#c8c8a8"/><stop offset="0.55" stop-color="#ccccb0"/><stop offset="0.68" stop-color="#eaeacc"/><stop offset="1" stop-color="#e4e2ca"/></linearGradient>
<linearGradient id="pc_cl" x1="0" y1="0" x2="0" y2="1"><stop offset="0" stop-color="#f0f0ec"/><stop offset="0.08" stop-color="#c2c6c2"/><stop offset="0.62" stop-color="#c6c8c4"/><stop offset="0.7" stop-color="#e4e4e4"/><stop offset="1" stop-color="#e0e0dc"/></linearGradient>
</defs>
<rect x="192.8" y="220.3" width="65.8" height="106.6" fill="#c8c8c0"/>
<rect x="192.8" y="220.3" width="65.8" height="52" fill="url(#pc_top)"/>
<rect x="207.7" y="220.3" width="2.8" height="52" fill="#efefeb"/>
<rect x="224.5" y="220.3" width="2.8" height="52" fill="#efefeb"/>
<rect x="241.1" y="220.3" width="2.8" height="52" fill="#efefeb"/>
<rect x="195.9" y="221" width="9.3" height="20.0" fill="url(#pc_col)"/>
<rect x="193.4" y="242.0" width="14.3" height="28.19999999999999" fill="url(#pc_y1)"/>
<path d="M194.9,241.0 Q200.55,244.0 206.20000000000002,241.0" stroke="#d4b020" stroke-width="1.7" fill="none"/>
<rect x="213.0" y="221" width="9.0" height="20.19999999999999" fill="url(#pc_col)"/>
<rect x="210.5" y="242.2" width="14.0" height="28.0" fill="url(#pc_w)"/>
<path d="M212.0,241.2 Q217.5,244.2 223.0,241.2" stroke="#f8f8f4" stroke-width="1.7" fill="none"/>
<rect x="229.8" y="221" width="8.8" height="21.5" fill="url(#pc_col)"/>
<rect x="227.3" y="243.5" width="13.8" height="26.69999999999999" fill="url(#pc_w)"/>
<path d="M228.8,242.5 Q234.20000000000002,245.5 239.60000000000002,242.5" stroke="#f8f8f4" stroke-width="1.7" fill="none"/>
<rect x="246.4" y="221" width="9.4" height="18.30000000000001" fill="url(#pc_col)"/>
<rect x="243.9" y="240.3" width="14.4" height="29.899999999999977" fill="url(#pc_w)"/>
<path d="M245.4,239.3 Q251.1,242.3 256.8,239.3" stroke="#f8f8f4" stroke-width="1.7" fill="none"/>
<rect x="192.8" y="269.6" width="65.8" height="3.2" fill="#bab29a"/>
<rect x="192.8" y="272.8" width="65.8" height="54.1" fill="#b8b8b0"/>
<rect x="192.8" y="272.8" width="33" height="16" fill="#a8a8a0"/>
<rect x="226.8" y="272.8" width="14.6" height="20.7" fill="#b8b8b0"/>
<rect x="243.2" y="272.8" width="15.4" height="17" fill="#c2c6c2"/>
<rect x="206.6" y="272.8" width="2.6" height="54.1" fill="#d6d6ce"/>
<rect x="225.3" y="272.8" width="2.6" height="54.1" fill="#d6d6ce"/>
<rect x="240.6" y="272.8" width="2.6" height="54.1" fill="#d6d6ce"/>
<rect x="193.6" y="288.8" width="13.0" height="36.80000000000001" fill="url(#pc_am)"/>
<rect x="210.3" y="291.9" width="15.0" height="33.700000000000045" fill="url(#pc_ye)"/>
<rect x="227.0" y="293.5" width="13.4" height="32.10000000000002" fill="url(#pc_pa)"/>
<rect x="243.2" y="289.6" width="14.9" height="36.0" fill="url(#pc_cl)"/>
<path d="M245,290 Q250.6,292.8 256.4,290" stroke="#f6f6f2" stroke-width="1.3" fill="none"/>
<rect x="192.8" y="325.4" width="65.8" height="1.6" fill="#c0b8a0"/>
<text x="207.45" y="230.2" font-size="6.6" fill="#000" stroke="#000" stroke-width="0.16" textLength="36.60" lengthAdjust="spacing" >without HCl</text>
<text x="212.35" y="283.0" font-size="6.6" fill="#000" stroke="#000" stroke-width="0.16" textLength="26.30" lengthAdjust="spacing" >with HCl</text>
<text x="195.85" y="335.8" font-size="7.4" fill="#000" stroke="#000" stroke-width="0.16" textLength="11.10" lengthAdjust="spacingAndGlyphs" >10<tspan font-size="4.14" dy="-2.81">−3</tspan><tspan dy="2.81"></tspan></text>
<text x="211.55" y="335.8" font-size="7.4" fill="#000" stroke="#000" stroke-width="0.16" textLength="10.80" lengthAdjust="spacingAndGlyphs" >10<tspan font-size="4.14" dy="-2.81">−4</tspan><tspan dy="2.81"></tspan></text>
<text x="227.65" y="335.8" font-size="7.4" fill="#000" stroke="#000" stroke-width="0.16" textLength="11.10" lengthAdjust="spacingAndGlyphs" >10<tspan font-size="4.14" dy="-2.81">−5</tspan><tspan dy="2.81"></tspan></text>
<text x="244.65" y="335.8" font-size="7.4" fill="#000" stroke="#000" stroke-width="0.16" textLength="11.10" lengthAdjust="spacingAndGlyphs" >10<tspan font-size="4.14" dy="-2.81">−6</tspan><tspan dy="2.81"></tspan></text>
<text x="279.15" y="203.6" font-size="8.6" fill="#000" stroke="#000" stroke-width="0.16" textLength="10.80" lengthAdjust="spacing" >(d)</text>
<text x="313.65" y="207.8" font-size="7.9" fill="#000" stroke="#000" stroke-width="0.16" textLength="219.50" lengthAdjust="spacing" >λ<tspan font-size="5.8" dy="1.6">ex1</tspan><tspan dy="-1.6"> </tspan>= 395 nm for <tspan stroke-width="0.32">PRML 1</tspan>, λ<tspan font-size="5.8" dy="1.6">ex2</tspan><tspan dy="-1.6"> </tspan>= 470 nm for <tspan stroke-width="0.32">PRML 1</tspan> + HCl</text>
<rect x="305.6" y="212.9" width="234.80" height="144.50" fill="none" stroke="#000" stroke-width="1.35"/>
<line x1="334.20" y1="357.40" x2="334.20" y2="354.20" stroke="#000" stroke-width="1.0"/>
<line x1="375.08" y1="357.40" x2="375.08" y2="354.20" stroke="#000" stroke-width="1.0"/>
<line x1="415.96" y1="357.40" x2="415.96" y2="354.20" stroke="#000" stroke-width="1.0"/>
<line x1="456.84" y1="357.40" x2="456.84" y2="354.20" stroke="#000" stroke-width="1.0"/>
<line x1="497.72" y1="357.40" x2="497.72" y2="354.20" stroke="#000" stroke-width="1.0"/>
<text x="327.15" y="367.6" font-size="8.7" fill="#000" stroke="#000" stroke-width="0.16" textLength="12.70" lengthAdjust="spacingAndGlyphs" >450</text>
<text x="368.03" y="367.6" font-size="8.7" fill="#000" stroke="#000" stroke-width="0.16" textLength="12.70" lengthAdjust="spacingAndGlyphs" >500</text>
<text x="408.91" y="367.6" font-size="8.7" fill="#000" stroke="#000" stroke-width="0.16" textLength="12.70" lengthAdjust="spacingAndGlyphs" >550</text>
<text x="449.79" y="367.6" font-size="8.7" fill="#000" stroke="#000" stroke-width="0.16" textLength="12.70" lengthAdjust="spacingAndGlyphs" >600</text>
<text x="490.67" y="367.6" font-size="8.7" fill="#000" stroke="#000" stroke-width="0.16" textLength="12.70" lengthAdjust="spacingAndGlyphs" >650</text>
<text x="531.55" y="367.6" font-size="8.7" fill="#000" stroke="#000" stroke-width="0.16" textLength="12.70" lengthAdjust="spacingAndGlyphs" >700</text>
<text x="400.45" y="376.6" font-size="8.0" fill="#000" stroke="#000" stroke-width="0.16" textLength="62.10" lengthAdjust="spacing" >Wavelength / nm</text>
<text x="299.7" y="334.25" font-size="7.9" stroke="#000" stroke-width="0.16" textLength="99.30" lengthAdjust="spacing" transform="rotate(-90 299.7 334.25)">Fluorescent Intensity / a. u.</text>
<path d="M306.00,344.00 C306.42,342.75 307.62,339.17 308.50,336.50 C309.38,333.83 310.42,330.87 311.30,328.00 C312.18,325.13 313.15,321.97 313.80,319.30 C314.45,316.63 314.73,314.72 315.20,312.00 C315.67,309.28 316.12,306.67 316.60,303.00 C317.08,299.33 317.22,294.83 318.10,290.00 C318.98,285.17 320.78,279.17 321.90,274.00 C323.02,268.83 324.02,262.92 324.80,259.00 C325.58,255.08 325.90,252.63 326.60,250.50 C327.30,248.37 328.18,247.18 329.00,246.20 C329.82,245.22 330.33,244.43 331.50,244.60 C332.67,244.77 334.30,246.12 336.00,247.20 C337.70,248.28 339.92,249.28 341.70,251.10 C343.48,252.92 345.20,255.85 346.70,258.10 C348.20,260.35 349.20,261.93 350.70,264.60 C352.20,267.27 354.02,270.72 355.70,274.10 C357.38,277.48 359.38,281.73 360.80,284.90 C362.22,288.07 363.07,290.27 364.20,293.10 C365.33,295.93 366.60,299.32 367.60,301.90 C368.60,304.48 369.35,306.33 370.20,308.60 C371.05,310.87 371.72,313.17 372.70,315.50 C373.68,317.83 374.97,320.33 376.10,322.60 C377.23,324.87 378.23,327.07 379.50,329.10 C380.77,331.13 382.28,333.10 383.70,334.80 C385.12,336.50 386.43,337.78 388.00,339.30 C389.57,340.82 391.40,342.50 393.10,343.90 C394.80,345.30 396.50,346.58 398.20,347.70 C399.90,348.82 401.60,349.75 403.30,350.60 C405.00,351.45 405.95,352.20 408.40,352.80 C410.85,353.40 412.73,353.67 418.00,354.20 C423.27,354.73 429.67,355.60 440.00,356.00 C450.33,356.40 463.33,356.47 480.00,356.60 C496.67,356.73 530.00,356.77 540.00,356.80" fill="none" stroke="#ffd21e" stroke-width="1.5" stroke-linejoin="round"/>
<path d="M305.90,346.70 C306.30,345.50 307.50,341.95 308.30,339.50 C309.10,337.05 309.98,334.42 310.70,332.00 C311.42,329.58 311.97,327.43 312.60,325.00 C313.23,322.57 313.95,319.90 314.50,317.40 C315.05,314.90 315.45,312.57 315.90,310.00 C316.35,307.43 316.70,305.33 317.20,302.00 C317.70,298.67 318.00,294.67 318.90,290.00 C319.80,285.33 321.52,279.17 322.60,274.00 C323.68,268.83 324.63,262.83 325.40,259.00 C326.17,255.17 326.43,252.92 327.20,251.00 C327.97,249.08 329.03,248.27 330.00,247.50 C330.97,246.73 331.83,246.28 333.00,246.40 C334.17,246.52 335.43,247.42 337.00,248.20 C338.57,248.98 340.67,249.45 342.40,251.10 C344.13,252.75 345.90,255.85 347.40,258.10 C348.90,260.35 349.90,261.93 351.40,264.60 C352.90,267.27 354.72,270.72 356.40,274.10 C358.08,277.48 360.08,281.73 361.50,284.90 C362.92,288.07 363.77,290.27 364.90,293.10 C366.03,295.93 367.30,299.32 368.30,301.90 C369.30,304.48 370.05,306.33 370.90,308.60 C371.75,310.87 372.42,313.17 373.40,315.50 C374.38,317.83 375.67,320.33 376.80,322.60 C377.93,324.87 378.93,327.07 380.20,329.10 C381.47,331.13 382.98,333.10 384.40,334.80 C385.82,336.50 387.13,337.78 388.70,339.30 C390.27,340.82 392.10,342.50 393.80,343.90 C395.50,345.30 397.20,346.58 398.90,347.70 C400.60,348.82 402.30,349.75 404.00,350.60 C405.70,351.45 406.77,352.20 409.10,352.80 C411.43,353.40 412.85,353.67 418.00,354.20 C423.15,354.73 429.67,355.60 440.00,356.00 C450.33,356.40 463.33,356.47 480.00,356.60 C496.67,356.73 530.00,356.77 540.00,356.80" fill="none" stroke="#ff2414" stroke-width="1.5" stroke-linejoin="round"/>
<path d="M305.40,353.00 C305.78,352.40 306.73,350.97 307.70,349.40 C308.67,347.83 310.25,345.57 311.20,343.60 C312.15,341.63 312.65,339.73 313.40,337.60 C314.15,335.47 315.07,333.30 315.70,330.80 C316.33,328.30 316.75,325.33 317.20,322.60 C317.65,319.87 317.95,317.73 318.40,314.40 C318.85,311.07 319.42,306.57 319.90,302.60 C320.38,298.63 320.67,294.98 321.30,290.60 C321.93,286.22 322.87,281.22 323.70,276.30 C324.53,271.38 325.52,265.62 326.30,261.10 C327.08,256.58 327.28,252.00 328.40,249.20 C329.52,246.40 331.48,244.80 333.00,244.30 C334.52,243.80 335.80,245.12 337.50,246.20 C339.20,247.28 341.42,248.87 343.20,250.80 C344.98,252.73 346.70,255.55 348.20,257.80 C349.70,260.05 350.70,261.63 352.20,264.30 C353.70,266.97 355.52,270.42 357.20,273.80 C358.88,277.18 360.88,281.43 362.30,284.60 C363.72,287.77 364.57,289.97 365.70,292.80 C366.83,295.63 368.10,299.02 369.10,301.60 C370.10,304.18 370.85,306.03 371.70,308.30 C372.55,310.57 373.22,312.87 374.20,315.20 C375.18,317.53 376.47,320.03 377.60,322.30 C378.73,324.57 379.73,326.77 381.00,328.80 C382.27,330.83 383.78,332.80 385.20,334.50 C386.62,336.20 387.93,337.48 389.50,339.00 C391.07,340.52 392.90,342.20 394.60,343.60 C396.30,345.00 398.00,346.28 399.70,347.40 C401.40,348.52 403.10,349.45 404.80,350.30 C406.50,351.15 407.70,351.85 409.90,352.50 C412.10,353.15 412.98,353.62 418.00,354.20 C423.02,354.78 429.67,355.60 440.00,356.00 C450.33,356.40 463.33,356.47 480.00,356.60 C496.67,356.73 530.00,356.77 540.00,356.80" fill="none" stroke="#1e40f0" stroke-width="1.3" stroke-linejoin="round"/>
<path d="M305.80,352.40 C306.18,351.80 307.13,350.37 308.10,348.80 C309.07,347.23 310.65,344.97 311.60,343.00 C312.55,341.03 313.05,339.13 313.80,337.00 C314.55,334.87 315.47,332.70 316.10,330.20 C316.73,327.70 317.15,324.73 317.60,322.00 C318.05,319.27 318.35,317.13 318.80,313.80 C319.25,310.47 319.82,305.97 320.30,302.00 C320.78,298.03 321.07,294.38 321.70,290.00 C322.33,285.62 323.27,280.62 324.10,275.70 C324.93,270.78 325.92,265.02 326.70,260.50 C327.48,255.98 327.88,251.43 328.80,248.60 C329.72,245.77 331.08,244.50 332.20,243.50 C333.32,242.50 334.37,242.42 335.50,242.60 C336.63,242.78 337.58,243.28 339.00,244.60 C340.42,245.92 342.33,248.35 344.00,250.50 C345.67,252.65 347.50,255.25 349.00,257.50 C350.50,259.75 351.50,261.33 353.00,264.00 C354.50,266.67 356.32,270.12 358.00,273.50 C359.68,276.88 361.68,281.13 363.10,284.30 C364.52,287.47 365.37,289.67 366.50,292.50 C367.63,295.33 368.90,298.72 369.90,301.30 C370.90,303.88 371.65,305.73 372.50,308.00 C373.35,310.27 374.02,312.57 375.00,314.90 C375.98,317.23 377.27,319.73 378.40,322.00 C379.53,324.27 380.53,326.47 381.80,328.50 C383.07,330.53 384.58,332.50 386.00,334.20 C387.42,335.90 388.73,337.18 390.30,338.70 C391.87,340.22 393.70,341.90 395.40,343.30 C397.10,344.70 398.80,345.98 400.50,347.10 C402.20,348.22 403.90,349.15 405.60,350.00 C407.30,350.85 408.63,351.50 410.70,352.20 C412.77,352.90 413.12,353.57 418.00,354.20 C422.88,354.83 429.67,355.60 440.00,356.00 C450.33,356.40 463.33,356.47 480.00,356.60 C496.67,356.73 530.00,356.77 540.00,356.80" fill="none" stroke="#000" stroke-width="1.5" stroke-linejoin="round"/>
<path d="M368.70,342.40 C369.17,340.83 370.45,336.40 371.50,333.00 C372.55,329.60 373.80,325.83 375.00,322.00 C376.20,318.17 377.62,313.83 378.70,310.00 C379.78,306.17 380.62,302.33 381.50,299.00 C382.38,295.67 383.13,293.33 384.00,290.00 C384.87,286.67 385.83,282.67 386.70,279.00 C387.57,275.33 388.38,271.33 389.20,268.00 C390.02,264.67 390.72,261.83 391.60,259.00 C392.48,256.17 393.60,253.00 394.50,251.00 C395.40,249.00 396.22,247.97 397.00,247.00 C397.78,246.03 398.45,245.37 399.20,245.20 C399.95,245.03 400.70,245.42 401.50,246.00 C402.30,246.58 402.92,247.12 404.00,248.70 C405.08,250.28 406.67,252.78 408.00,255.50 C409.33,258.22 410.67,261.75 412.00,265.00 C413.33,268.25 414.67,271.67 416.00,275.00 C417.33,278.33 418.67,281.83 420.00,285.00 C421.33,288.17 422.25,290.63 424.00,294.00 C425.75,297.37 428.25,301.53 430.50,305.20 C432.75,308.87 435.22,312.60 437.50,316.00 C439.78,319.40 441.95,322.60 444.20,325.60 C446.45,328.60 448.37,331.30 451.00,334.00 C453.63,336.70 457.00,339.60 460.00,341.80 C463.00,344.00 465.58,345.53 469.00,347.20 C472.42,348.87 476.33,350.50 480.50,351.80 C484.67,353.10 489.08,354.23 494.00,355.00 C498.92,355.77 504.83,356.10 510.00,356.40 C515.17,356.70 522.50,356.73 525.00,356.80" fill="none" stroke="#ffd21e" stroke-width="1.4" stroke-dasharray="2.0 1.1" stroke-linejoin="round"/>
<path d="M368.70,333.20 C369.17,331.58 370.45,326.95 371.50,323.50 C372.55,320.05 373.80,316.25 375.00,312.50 C376.20,308.75 377.45,304.75 378.70,301.00 C379.95,297.25 381.40,293.67 382.50,290.00 C383.60,286.33 384.38,282.67 385.30,279.00 C386.22,275.33 387.10,271.33 388.00,268.00 C388.90,264.67 389.78,261.83 390.70,259.00 C391.62,256.17 392.53,253.25 393.50,251.00 C394.47,248.75 395.42,246.83 396.50,245.50 C397.58,244.17 399.00,243.25 400.00,243.00 C401.00,242.75 401.67,243.25 402.50,244.00 C403.33,244.75 403.93,245.77 405.00,247.50 C406.07,249.23 407.60,251.62 408.90,254.40 C410.20,257.18 411.50,260.93 412.80,264.20 C414.10,267.47 415.38,270.75 416.70,274.00 C418.02,277.25 419.38,280.60 420.70,283.70 C422.02,286.80 422.82,289.08 424.60,292.60 C426.38,296.12 429.13,300.97 431.40,304.80 C433.67,308.63 435.93,312.18 438.20,315.60 C440.47,319.02 442.73,322.30 445.00,325.30 C447.27,328.30 449.15,330.97 451.80,333.60 C454.45,336.23 457.87,338.90 460.90,341.10 C463.93,343.30 466.58,345.05 470.00,346.80 C473.42,348.55 477.23,350.23 481.40,351.60 C485.57,352.97 490.23,354.20 495.00,355.00 C499.77,355.80 505.00,356.10 510.00,356.40 C515.00,356.70 522.50,356.73 525.00,356.80" fill="none" stroke="#1e40f0" stroke-width="1.4" stroke-dasharray="2.0 1.1" stroke-linejoin="round"/>
<path d="M368.70,330.40 C369.17,328.83 370.45,324.40 371.50,321.00 C372.55,317.60 373.83,313.58 375.00,310.00 C376.17,306.42 377.37,302.83 378.50,299.50 C379.63,296.17 380.80,293.42 381.80,290.00 C382.80,286.58 383.63,282.67 384.50,279.00 C385.37,275.33 386.17,271.67 387.00,268.00 C387.83,264.33 388.67,260.33 389.50,257.00 C390.33,253.67 391.08,250.83 392.00,248.00 C392.92,245.17 394.00,242.25 395.00,240.00 C396.00,237.75 396.97,235.80 398.00,234.50 C399.03,233.20 400.28,232.45 401.20,232.20 C402.12,231.95 402.78,232.37 403.50,233.00 C404.22,233.63 404.60,234.23 405.50,236.00 C406.40,237.77 407.68,240.70 408.90,243.60 C410.12,246.50 411.50,249.97 412.80,253.40 C414.10,256.83 415.38,260.77 416.70,264.20 C418.02,267.63 419.38,270.75 420.70,274.00 C422.02,277.25 423.30,280.60 424.60,283.70 C425.90,286.80 427.00,289.48 428.50,292.60 C430.00,295.72 431.60,298.90 433.60,302.40 C435.60,305.90 438.22,309.98 440.50,313.60 C442.78,317.22 445.03,320.83 447.30,324.10 C449.57,327.37 451.45,330.37 454.10,333.20 C456.75,336.03 460.17,338.83 463.20,341.10 C466.23,343.37 468.90,345.05 472.30,346.80 C475.70,348.55 479.82,350.28 483.60,351.60 C487.38,352.92 490.45,353.92 495.00,354.70 C499.55,355.48 505.90,355.95 510.90,356.30 C515.90,356.65 522.65,356.72 525.00,356.80" fill="none" stroke="#ff2414" stroke-width="1.4" stroke-dasharray="2.0 1.1" stroke-linejoin="round"/>
<path d="M369.40,347.20 C369.92,345.50 371.48,340.37 372.50,337.00 C373.52,333.63 374.50,330.33 375.50,327.00 C376.50,323.67 377.50,320.33 378.50,317.00 C379.50,313.67 380.50,310.17 381.50,307.00 C382.50,303.83 383.53,300.83 384.50,298.00 C385.47,295.17 386.38,293.17 387.30,290.00 C388.22,286.83 389.13,283.00 390.00,279.00 C390.87,275.00 391.67,270.33 392.50,266.00 C393.33,261.67 394.17,257.08 395.00,253.00 C395.83,248.92 396.67,244.75 397.50,241.50 C398.33,238.25 399.25,235.58 400.00,233.50 C400.75,231.42 401.32,230.05 402.00,229.00 C402.68,227.95 403.43,227.38 404.10,227.20 C404.77,227.02 405.27,227.35 406.00,227.90 C406.73,228.45 407.68,229.35 408.50,230.50 C409.32,231.65 409.85,232.95 410.90,234.80 C411.95,236.65 413.50,238.98 414.80,241.60 C416.10,244.22 417.40,247.40 418.70,250.50 C420.00,253.60 421.30,256.95 422.60,260.20 C423.90,263.45 425.18,266.77 426.50,270.00 C427.82,273.23 429.18,276.55 430.50,279.60 C431.82,282.65 432.73,284.82 434.40,288.30 C436.07,291.78 438.35,296.52 440.50,300.50 C442.65,304.48 445.03,308.32 447.30,312.20 C449.57,316.08 451.83,320.20 454.10,323.80 C456.37,327.40 458.25,330.52 460.90,333.80 C463.55,337.08 466.97,340.83 470.00,343.50 C473.03,346.17 476.07,348.18 479.10,349.80 C482.13,351.42 484.80,352.25 488.20,353.20 C491.60,354.15 495.72,354.97 499.50,355.50 C503.28,356.03 506.65,356.18 510.90,356.40 C515.15,356.62 522.65,356.73 525.00,356.80" fill="none" stroke="#000" stroke-width="1.4" stroke-dasharray="2.0 1.1" stroke-linejoin="round"/>
<text x="350.85" y="230.4" font-size="7.3" fill="#000" stroke="#000" stroke-width="0.16" textLength="28.50" lengthAdjust="spacingAndGlyphs" >10<tspan font-size="4.09" dy="-2.77">−3</tspan><tspan dy="2.77"> : 452</tspan></text>
<text x="350.85" y="239.3" font-size="7.3" fill="#000" stroke="#000" stroke-width="0.16" textLength="28.50" lengthAdjust="spacingAndGlyphs" >10<tspan font-size="4.09" dy="-2.77">−4</tspan><tspan dy="2.77"> : 449</tspan></text>
<text x="350.85" y="248.2" font-size="7.3" fill="#000" stroke="#000" stroke-width="0.16" textLength="28.50" lengthAdjust="spacingAndGlyphs" >10<tspan font-size="4.09" dy="-2.77">−5</tspan><tspan dy="2.77"> : 450</tspan></text>
<text x="350.85" y="257.1" font-size="7.3" fill="#000" stroke="#000" stroke-width="0.16" textLength="28.50" lengthAdjust="spacingAndGlyphs" >10<tspan font-size="4.09" dy="-2.77">−6</tspan><tspan dy="2.77"> : 448</tspan></text>
<text x="426.05" y="227.1" font-size="7.3" fill="#000" stroke="#000" stroke-width="0.16" textLength="28.30" lengthAdjust="spacingAndGlyphs" >10<tspan font-size="4.09" dy="-2.77">−3</tspan><tspan dy="2.77"> : 536</tspan></text>
<text x="426.05" y="236.1" font-size="7.3" fill="#000" stroke="#000" stroke-width="0.16" textLength="28.30" lengthAdjust="spacingAndGlyphs" >10<tspan font-size="4.09" dy="-2.77">−4</tspan><tspan dy="2.77"> : 532</tspan></text>
<text x="426.05" y="245.1" font-size="7.3" fill="#000" stroke="#000" stroke-width="0.16" textLength="28.30" lengthAdjust="spacingAndGlyphs" >10<tspan font-size="4.09" dy="-2.77">−5</tspan><tspan dy="2.77"> : 531</tspan></text>
<text x="426.05" y="254.1" font-size="7.3" fill="#000" stroke="#000" stroke-width="0.16" textLength="28.30" lengthAdjust="spacingAndGlyphs" >10<tspan font-size="4.09" dy="-2.77">−6</tspan><tspan dy="2.77"> : 530</tspan></text>
<line x1="325.50" y1="296.80" x2="334.50" y2="296.80" stroke="#000" stroke-width="1.8"/>
<text x="337.05" y="299.2" font-size="7.0" fill="#000" stroke="#000" stroke-width="0.16" textLength="19.90" lengthAdjust="spacing" >10<tspan font-size="3.92" dy="-2.66">−3</tspan><tspan dy="2.66"> M</tspan></text>
<line x1="325.50" y1="308.80" x2="334.50" y2="308.80" stroke="#ff2414" stroke-width="1.8"/>
<text x="337.05" y="311.2" font-size="7.0" fill="#000" stroke="#000" stroke-width="0.16" textLength="19.90" lengthAdjust="spacing" >10<tspan font-size="3.92" dy="-2.66">−4</tspan><tspan dy="2.66"> M</tspan></text>
<line x1="325.50" y1="320.80" x2="334.50" y2="320.80" stroke="#2f86c8" stroke-width="1.8"/>
<text x="337.05" y="323.2" font-size="7.0" fill="#000" stroke="#000" stroke-width="0.16" textLength="19.90" lengthAdjust="spacing" >10<tspan font-size="3.92" dy="-2.66">−5</tspan><tspan dy="2.66"> M</tspan></text>
<line x1="325.50" y1="332.80" x2="334.50" y2="332.80" stroke="#ffd21e" stroke-width="1.8"/>
<text x="337.05" y="335.2" font-size="7.0" fill="#000" stroke="#000" stroke-width="0.16" textLength="19.90" lengthAdjust="spacing" >10<tspan font-size="3.92" dy="-2.66">−6</tspan><tspan dy="2.66"> M</tspan></text>
<line x1="394.30" y1="296.60" x2="402.60" y2="296.60" stroke="#000" stroke-width="1.8" stroke-dasharray="3.2 2"/>
<text x="404.95" y="299.0" font-size="7.0" fill="#000" stroke="#000" stroke-width="0.16" textLength="19.50" lengthAdjust="spacing" >10<tspan font-size="3.92" dy="-2.66">−3</tspan><tspan dy="2.66"> M</tspan></text>
<line x1="394.30" y1="308.60" x2="402.60" y2="308.60" stroke="#ff2414" stroke-width="1.8" stroke-dasharray="3.2 2"/>
<text x="404.95" y="311.0" font-size="7.0" fill="#000" stroke="#000" stroke-width="0.16" textLength="19.50" lengthAdjust="spacing" >10<tspan font-size="3.92" dy="-2.66">−4</tspan><tspan dy="2.66"> M</tspan></text>
<line x1="394.30" y1="320.50" x2="402.60" y2="320.50" stroke="#2f86c8" stroke-width="1.8" stroke-dasharray="3.2 2"/>
<text x="404.95" y="322.9" font-size="7.0" fill="#000" stroke="#000" stroke-width="0.16" textLength="19.50" lengthAdjust="spacing" >10<tspan font-size="3.92" dy="-2.66">−5</tspan><tspan dy="2.66"> M</tspan></text>
<line x1="394.30" y1="332.80" x2="402.60" y2="332.80" stroke="#ffd21e" stroke-width="1.8" stroke-dasharray="3.2 2"/>
<text x="404.95" y="335.2" font-size="7.0" fill="#000" stroke="#000" stroke-width="0.16" textLength="19.50" lengthAdjust="spacing" >10<tspan font-size="3.92" dy="-2.66">−6</tspan><tspan dy="2.66"> M</tspan></text>
<defs>
<linearGradient id="pd1" x1="0" y1="0" x2="0" y2="1"><stop offset="0" stop-color="#70e8ff"/><stop offset="0.06" stop-color="#30b8ee"/><stop offset="0.4" stop-color="#1a88cc"/><stop offset="0.75" stop-color="#1e9ada"/><stop offset="1" stop-color="#48d8ff"/></linearGradient>
<linearGradient id="pd2" x1="0" y1="0" x2="0" y2="1"><stop offset="0" stop-color="#70d8ff"/><stop offset="0.07" stop-color="#2aa0ee"/><stop offset="0.5" stop-color="#1c8ce4"/><stop offset="0.8" stop-color="#2cb0f0"/><stop offset="1" stop-color="#50d8ff"/></linearGradient>
<linearGradient id="pd3" x1="0" y1="0" x2="0" y2="1"><stop offset="0" stop-color="#50b8ff"/><stop offset="0.08" stop-color="#1c78e8"/><stop offset="0.6" stop-color="#1e86f0"/><stop offset="1" stop-color="#30a4f8"/></linearGradient>
<linearGradient id="pd4" x1="0" y1="0" x2="0" y2="1"><stop offset="0" stop-color="#90d0ff"/><stop offset="0.07" stop-color="#3a8cf4"/><stop offset="0.7" stop-color="#3c90f6"/><stop offset="1" stop-color="#56a8fa"/></linearGradient>
<linearGradient id="pdin" x1="0" y1="0" x2="1" y2="0"><stop offset="0" stop-color="#a0f0ff" stop-opacity="0.5"/><stop offset="0.1" stop-color="#60d0ff" stop-opacity="0.15"/><stop offset="0.3" stop-color="#002050" stop-opacity="0.1"/><stop offset="0.5" stop-color="#002050" stop-opacity="0.18"/><stop offset="0.7" stop-color="#002050" stop-opacity="0.1"/><stop offset="0.9" stop-color="#60d0ff" stop-opacity="0.15"/><stop offset="1" stop-color="#a0f0ff" stop-opacity="0.5"/></linearGradient>
<linearGradient id="pe1" x1="0" y1="0" x2="0" y2="1"><stop offset="0" stop-color="#283010"/><stop offset="0.4" stop-color="#141a06"/><stop offset="0.7" stop-color="#4a5a0c"/><stop offset="0.88" stop-color="#a8c820"/><stop offset="1" stop-color="#e0f040"/></linearGradient>
<linearGradient id="pe2" x1="0" y1="0" x2="0" y2="1"><stop offset="0" stop-color="#c0ff70"/><stop offset="0.06" stop-color="#78d440"/><stop offset="0.6" stop-color="#6ec83c"/><stop offset="1" stop-color="#90e050"/></linearGradient>
<linearGradient id="pe3" x1="0" y1="0" x2="0" y2="1"><stop offset="0" stop-color="#e0fff0"/><stop offset="0.06" stop-color="#7cd4ae"/><stop offset="0.6" stop-color="#84d8b4"/><stop offset="1" stop-color="#a0ecc8"/></linearGradient>
<linearGradient id="pe4" x1="0" y1="0" x2="0" y2="1"><stop offset="0" stop-color="#b0ffd0"/><stop offset="0.06" stop-color="#24b86a"/><stop offset="0.7" stop-color="#22b86c"/><stop offset="1" stop-color="#3cc486"/></linearGradient>
</defs>
<rect x="465.9" y="216.8" width="65.4" height="106.6" fill="#070810"/>
<rect x="467.1" y="237.5" width="14.1" height="32.5" fill="url(#pd1)"/>
<rect x="467.1" y="237.5" width="14.1" height="32.5" fill="url(#pdin)"/>
<rect x="482.8" y="237.5" width="14.9" height="32.5" fill="url(#pd2)"/>
<rect x="482.8" y="237.5" width="14.9" height="32.5" fill="url(#pdin)"/>
<rect x="499.2" y="241.4" width="14.1" height="28.599999999999994" fill="url(#pd3)"/>
<rect x="499.2" y="241.4" width="14.1" height="28.599999999999994" fill="url(#pdin)"/>
<rect x="515.7" y="235.1" width="13.3" height="34.900000000000006" fill="url(#pd4)"/>
<rect x="515.7" y="235.1" width="13.3" height="34.900000000000006" fill="url(#pdin)"/>
<path d="M516.2,270 L516.2,222 Q516.5,217.5 520,217.5 L526,217.5 Q529.3,217.5 529.3,222 L529.3,270" stroke="#d8e8ff" stroke-width="0.7" fill="none" opacity="0.85"/>
<rect x="465.9" y="270.0" width="65.4" height="53.4" fill="#060606"/>
<rect x="467.1" y="286.4" width="13.3" height="36.200000000000045" fill="url(#pe1)"/>
<rect x="482.8" y="286.4" width="14.9" height="36.200000000000045" fill="url(#pe2)"/>
<rect x="499.2" y="288.0" width="14.1" height="34.60000000000002" fill="url(#pe3)"/>
<rect x="516.5" y="287.0" width="13.3" height="35.60000000000002" fill="url(#pe4)"/>
<rect x="467.7" y="286.6" width="12.1" height="35.6" fill="none" stroke="#d0e828" stroke-width="1.1"/>
<path d="M467.3,286.5 L480.2,286.5" stroke="#e08a20" stroke-width="1.1"/>
<path d="M467.4,286 L467.4,272 M480.0,272 L480.0,286" stroke="#606818" stroke-width="0.6"/>
<path d="M483.2,286 L483.2,272 M497.3,272 L497.3,286" stroke="#506a20" stroke-width="0.6"/>
<path d="M499.6,288 L499.6,272 M513,272 L513,288" stroke="#8a9a98" stroke-width="0.7"/>
<rect x="516.2" y="271" width="14.2" height="51.8" fill="none" stroke="#8c9cac" stroke-width="0.9"/>
<path d="M500,288.2 Q506,290.5 512.6,288.2" stroke="#f0fff8" stroke-width="1.1" fill="none"/>
<path d="M517,287.2 Q523,289.5 529.6,287.2" stroke="#e0fff0" stroke-width="1.0" fill="none"/>
<text x="481.15" y="229.0" font-size="6.7" fill="#fff" stroke="#fff" stroke-width="0.16" textLength="35.30" lengthAdjust="spacing" >without HCl</text>
<text x="485.15" y="281.8" font-size="6.7" fill="#fff" stroke="#fff" stroke-width="0.16" textLength="26.80" lengthAdjust="spacing" >with HCl</text>
<text x="469.85" y="333.0" font-size="7.4" fill="#000" stroke="#000" stroke-width="0.16" textLength="10.70" lengthAdjust="spacingAndGlyphs" >10<tspan font-size="4.14" dy="-2.81">−3</tspan><tspan dy="2.81"></tspan></text>
<text x="485.05" y="333.0" font-size="7.4" fill="#000" stroke="#000" stroke-width="0.16" textLength="10.80" lengthAdjust="spacingAndGlyphs" >10<tspan font-size="4.14" dy="-2.81">−4</tspan><tspan dy="2.81"></tspan></text>
<text x="501.65" y="333.0" font-size="7.4" fill="#000" stroke="#000" stroke-width="0.16" textLength="10.70" lengthAdjust="spacingAndGlyphs" >10<tspan font-size="4.14" dy="-2.81">−5</tspan><tspan dy="2.81"></tspan></text>
<text x="518.15" y="333.0" font-size="7.4" fill="#000" stroke="#000" stroke-width="0.16" textLength="10.80" lengthAdjust="spacingAndGlyphs" >10<tspan font-size="4.14" dy="-2.81">−6</tspan><tspan dy="2.81"></tspan></text>
</svg>
</body></html>
